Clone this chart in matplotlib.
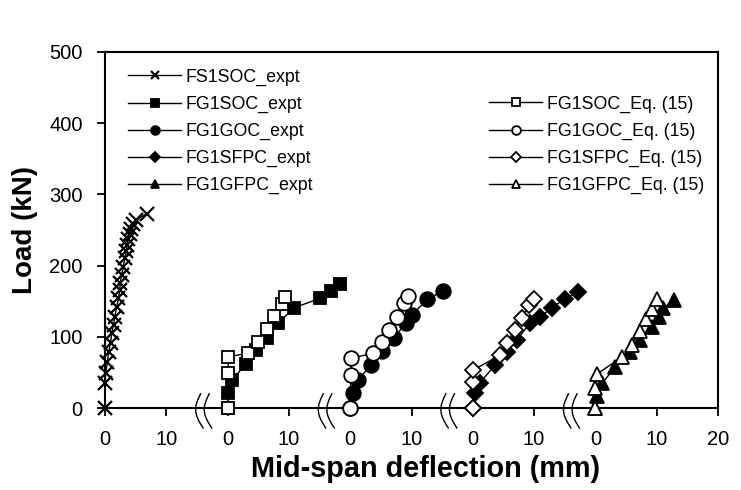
import matplotlib
matplotlib.use("Agg")
import matplotlib.pyplot as plt
import numpy as np
from matplotlib.lines import Line2D

plt.rcParams['font.family'] = ['Liberation Sans', 'DejaVu Sans']

# each specimen is drawn on its own piece of the broken x axis
offsets = [0, 20, 40, 60, 80]
tick_pos = [0, 10, 20, 30, 40, 50, 60, 70, 80, 90, 100]
tick_lab = ["0", "10", "0", "10", "0", "10", "0", "10", "0", "10", "20"]
y_ticks = [0, 100, 200, 300, 400, 500]

# FS1SOC (experiment only)
fs1soc_x = [0, 0.05, 0.1, 0.4, 0.6, 0.9, 1.1, 1.4, 1.6, 1.9, 2.2, 2.4, 2.5, 2.7,
            3.0, 3.2, 3.5, 3.6, 3.8, 4.0, 4.3, 4.6, 5.1, 6.8]
fs1soc_y = [0, 35, 49, 65, 79, 91, 105, 117, 128, 142, 154, 166, 175, 187,
            198, 210, 220, 229, 238, 245, 252, 259, 264, 273]

# FG1SOC
fg1soc_x = [0, 0.1, 0.7, 3.0, 4.7, 6.5, 8.3, 10.9, 15.1, 16.8, 18.4]
fg1soc_y = [0, 21, 39, 62, 82, 98, 120, 141, 154, 165, 174]
fg1soc_eq_x = [0, 0.1, 0.1, 3.4, 5.0, 6.4, 7.6, 8.8, 9.4]
fg1soc_eq_y = [0, 49, 72, 77, 93, 111, 129, 146, 156]

# FG1GOC
fg1goc_x = [0, 0.5, 1.3, 3.4, 5.2, 7.1, 9.1, 10.1, 12.6, 15.1]
fg1goc_y = [0, 21, 40, 60, 80, 99, 119, 131, 153, 164]
fg1goc_eq_x = [0, 0.1, 0.2, 3.7, 5.2, 6.4, 7.6, 8.8, 9.4]
fg1goc_eq_y = [0, 46, 70, 77, 93, 110, 128, 147, 158]

# FG1SFPC
fg1sfpc_x = [0, 0.4, 1.1, 3.6, 5.5, 7.2, 9.3, 11.0, 12.9, 15.0, 17.1]
fg1sfpc_y = [0, 21, 35, 60, 79, 96, 119, 128, 141, 153, 163]
fg1sfpc_eq_x = [0, 0, 0, 4.4, 5.6, 6.8, 8.0, 9.2, 9.9]
fg1sfpc_eq_y = [0, 37, 53, 74, 92, 110, 127, 145, 153]

# FG1GFPC
fg1gfpc_x = [0, 0.3, 1.1, 3.2, 5.6, 7.3, 9.2, 10.3, 11.1, 12.8]
fg1gfpc_y = [0, 17, 35, 57, 78, 95, 114, 128, 140, 152]
fg1gfpc_eq_x = [0, 0, 0.3, 4.4, 5.9, 7.2, 8.3, 9.3, 10.1]
fg1gfpc_eq_y = [0, 28, 48, 72, 89, 108, 125, 139, 153]

fig = plt.figure(figsize=(7.41, 4.9), dpi=100)
ax = fig.add_axes([0.1417, 0.1673, 0.8273, 0.7266])

lw = 1.0
mew = 1.3

def curve(off, xs, ys, marker, ms, filled, label):
    x = off + np.asarray(xs)
    if marker == "x":
        l, = ax.plot(x, ys, "-", color="black", lw=lw, marker="x", ms=ms,
                     mew=1.6, label=label, clip_on=False, zorder=3)
    else:
        l, = ax.plot(x, ys, "-", color="black", lw=lw, marker=marker, ms=ms,
                     mfc="black" if filled else "white", mec="black", mew=mew,
                     label=label, clip_on=False, zorder=3)
    return l

h = {}
h["fs1"] = curve(offsets[0], fs1soc_x, fs1soc_y, "x", 10.5, True, "FS1SOC_expt")
h["s"] = curve(offsets[1], fg1soc_x, fg1soc_y, "s", 8.5, True, "FG1SOC_expt")
h["se"] = curve(offsets[1], fg1soc_eq_x, fg1soc_eq_y, "s", 8.5, False, "FG1SOC_Eq. (15)")
h["c"] = curve(offsets[2], fg1goc_x, fg1goc_y, "o", 10.5, True, "FG1GOC_expt")
h["ce"] = curve(offsets[2], fg1goc_eq_x, fg1goc_eq_y, "o", 10.5, False, "FG1GOC_Eq. (15)")
h["d"] = curve(offsets[3], fg1sfpc_x, fg1sfpc_y, "D", 8.5, True, "FG1SFPC_expt")
h["de"] = curve(offsets[3], fg1sfpc_eq_x, fg1sfpc_eq_y, "D", 8.5, False, "FG1SFPC_Eq. (15)")
h["t"] = curve(offsets[4], fg1gfpc_x, fg1gfpc_y, "^", 9.5, True, "FG1GFPC_expt")
h["te"] = curve(offsets[4], fg1gfpc_eq_x, fg1gfpc_eq_y, "^", 9.5, False, "FG1GFPC_Eq. (15)")

blank = Line2D([], [], color="none", label=" ")
handles = [h["fs1"], h["s"], h["c"], h["d"], h["t"],
           blank, h["se"], h["ce"], h["de"], h["te"]]
leg = ax.legend(handles=handles, labels=[l.get_label() for l in handles],
                ncol=2, loc="upper left", bbox_to_anchor=(0.017, 0.988),
                frameon=False, fontsize=12.8, handlelength=3.0,
                handletextpad=0.25, columnspacing=9.9, labelspacing=0.56,
                markerscale=0.6, borderaxespad=0.3)

# break marks on the x axis
s = np.linspace(0, 1, 30)
for off in offsets[:4]:
    for dx in (15.6, 17.0):
        bx = off + dx - 1.0 * np.sin(np.pi * s) + 0.4 * s
        by = 20 - 48 * s
        ax.plot(bx, by, color="black", lw=1.0, clip_on=False, zorder=4)

ax.set_xlim(0, 100)
ax.set_ylim(0, 500)
ax.set_xticks(tick_pos)
ax.set_xticklabels(tick_lab)
ax.set_yticks(y_ticks)
ax.tick_params(direction="out", length=6, width=1.3, labelsize=14.5)
ax.tick_params(axis="y", pad=10)
ax.tick_params(axis="x", pad=10)
for sp in ax.spines.values():
    sp.set_linewidth(1.5)

ax.set_xlabel("Mid-span deflection (mm)", fontsize=20.8, fontweight="bold")
ax.xaxis.set_label_coords(0.523, -0.132)
ax.set_ylabel("Load (kN)", fontsize=20, fontweight="bold", labelpad=8)

fig.savefig("out.png", dpi=100)
